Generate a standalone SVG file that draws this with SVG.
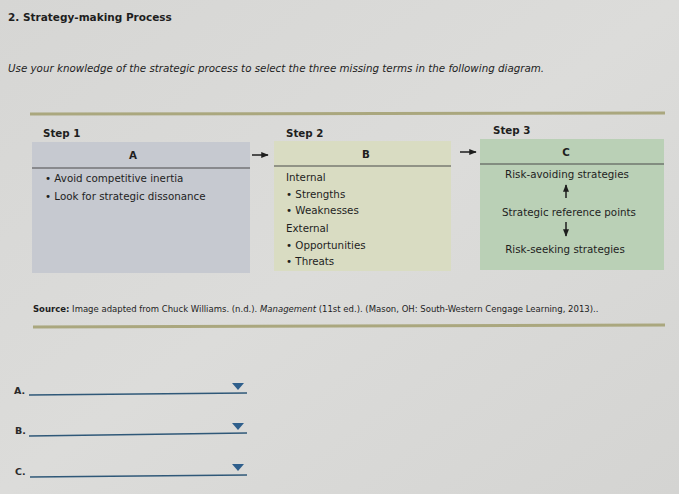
<svg xmlns="http://www.w3.org/2000/svg" width="679" height="494" viewBox="0 0 679 494">
<style>
text{font-family:"DejaVu Sans",Verdana,sans-serif;fill:#1e1e1e}
.b{font-weight:bold}
.t{font-size:10.3px}
.h{font-size:10.3px;font-weight:bold}
.lbl{font-size:9.5px;font-weight:bold;fill:#2a2a2a}
.div{stroke:#4a4a4a;stroke-width:1.2}
.ans{stroke:#2f5878;stroke-width:1.6}
.tri{fill:#2f5f8c}
.rule{stroke:#aaa77e;stroke-width:3}
</style>
<defs>
<linearGradient id="bg" x1="0" y1="0" x2="1" y2="1">
<stop offset="0" stop-color="#d6d6d4"/>
<stop offset="0.5" stop-color="#dcdcda"/>
<stop offset="1" stop-color="#d4d4d2"/>
</linearGradient>
<marker id="ah" viewBox="0 0 10 10" refX="9" refY="5" markerWidth="5" markerHeight="5" orient="auto">
<path d="M0,1 L10,5 L0,9 z" fill="#1e1e1e"/>
</marker>
</defs>
<rect width="679" height="494" fill="url(#bg)"/>
<text x="8" y="21" class="b" font-size="10.5">2. Strategy-making Process</text>
<text x="8" y="72" font-size="10.3" font-style="italic">Use your knowledge of the strategic process to select the three missing terms in the following diagram.</text>
<line x1="30" y1="114" x2="665" y2="113" class="rule"/>

<g id="stepA">
<text x="43" y="137" class="h">Step 1</text>
<rect x="32" y="142" width="218" height="131" fill="#c6c9d0"/>
<line x1="32" y1="168" x2="250" y2="168" class="div"/>
<text x="133" y="159" class="h" text-anchor="middle">A</text>
<text x="45" y="182" class="t">• Avoid competitive inertia</text>
<text x="45" y="200" class="t">• Look for strategic dissonance</text>
</g>

<g id="stepB">
<text x="286" y="137" class="h">Step 2</text>
<rect x="274" y="141" width="177" height="130" fill="#d9dcc2"/>
<line x1="274" y1="166" x2="451" y2="166" class="div"/>
<text x="366" y="158" class="h" text-anchor="middle">B</text>
<text x="286" y="181" class="t">Internal</text>
<text x="286" y="198" class="t">• Strengths</text>
<text x="286" y="214" class="t">• Weaknesses</text>
<text x="286" y="232" class="t">External</text>
<text x="286" y="249" class="t">• Opportunities</text>
<text x="286" y="265" class="t">• Threats</text>
</g>

<g id="stepC">
<text x="493" y="134" class="h">Step 3</text>
<rect x="480" y="139" width="184" height="131" fill="#bad0b6"/>
<line x1="480" y1="164" x2="664" y2="164" class="div"/>
<text x="566" y="156" class="h" text-anchor="middle">C</text>
<text x="567" y="178" class="t" text-anchor="middle">Risk-avoiding strategies</text>
<text x="569" y="216" class="t" text-anchor="middle">Strategic reference points</text>
<text x="565" y="253" class="t" text-anchor="middle">Risk-seeking strategies</text>
</g>

<g id="connectors" stroke="#1e1e1e" stroke-width="1.5" fill="none">
<line x1="252" y1="155" x2="268" y2="155" marker-end="url(#ah)"/>
<line x1="460" y1="152" x2="476" y2="152" marker-end="url(#ah)"/>
<line x1="566" y1="198" x2="566" y2="185" marker-end="url(#ah)"/>
<line x1="566" y1="222" x2="566" y2="236" marker-end="url(#ah)"/>
</g>

<text x="33" y="312" font-size="8.5"><tspan font-weight="bold">Source:</tspan> Image adapted from Chuck Williams. (n.d.). <tspan font-style="italic">Management</tspan> (11st ed.). (Mason, OH: South-Western Cengage Learning, 2013)..</text>
<line x1="33" y1="327" x2="665" y2="325" class="rule"/>

<g id="answerA">
<text x="14" y="394" class="lbl">A.</text>
<line x1="29" y1="395" x2="247" y2="393" class="ans"/>
<path d="M232,383 L244,383 L238,390 z" class="tri"/>
</g>
<g id="answerB">
<text x="15" y="434" class="lbl">B.</text>
<line x1="29" y1="436" x2="247" y2="433" class="ans"/>
<path d="M232,423 L244,423 L238,430 z" class="tri"/>
</g>
<g id="answerC">
<text x="15" y="475" class="lbl">C.</text>
<line x1="30" y1="477" x2="247" y2="475" class="ans"/>
<path d="M232,464 L244,464 L238,471 z" class="tri"/>
</g>
</svg>
